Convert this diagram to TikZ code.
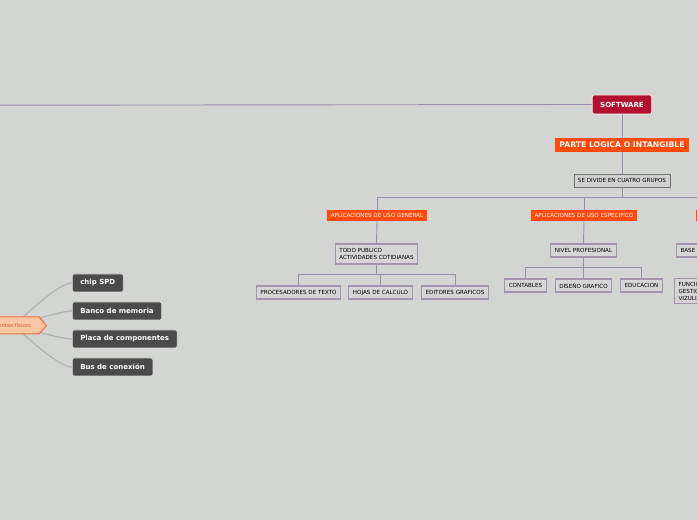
\documentclass[tikz,border=0pt]{standalone}
\usepackage{fontspec}
\setmainfont{DejaVu Sans}
\usetikzlibrary{shapes.symbols}
\definecolor{bgcol}{HTML}{D3D5D2}
\definecolor{crimson}{HTML}{B3102F}
\definecolor{flame}{HTML}{FF4A0A}
\definecolor{linecol}{HTML}{9C8CAC}
\definecolor{boxline}{HTML}{A494AE}
\definecolor{darkfill}{HTML}{4A4A4A}
\definecolor{peach}{HTML}{F9C8A2}
\definecolor{peachline}{HTML}{F26B3A}
\begin{document}
\begin{tikzpicture}[x=1pt, y=1pt,
    rootbox/.style={rectangle, rounded corners=2pt, fill=crimson, draw=white, line width=0.6pt, text=white, font=\bfseries\fontsize{7}{8}\selectfont, minimum height=19pt, inner xsep=8pt},
    mainbox/.style={rectangle, fill=flame, text=white, font=\bfseries\fontsize{7.7}{9}\selectfont, minimum height=14pt, inner xsep=4pt},
    groupbox/.style={rectangle, fill=flame, text=white, font=\fontsize{5.6}{6.5}\selectfont, minimum height=11pt, inner xsep=3.5pt},
    splitbox/.style={rectangle, fill=black!18, draw=black!55, line width=0.9pt, font=\fontsize{5.6}{6.5}\selectfont, minimum height=13pt, inner xsep=4pt},
    leafbox/.style={rectangle, fill=black!16, draw=boxline, line width=1.1pt, font=\fontsize{5.6}{7}\selectfont, minimum height=13pt, inner xsep=4pt, align=left},
    darkbox/.style={rectangle, rounded corners=2pt, fill=darkfill, draw=white!85!black, line width=0.6pt, text=white, font=\bfseries\fontsize{7}{8}\selectfont, minimum height=18pt, inner xsep=8pt},
    conn/.style={draw=linecol, line width=0.9pt},
    branch/.style={draw=black!30, line width=1.2pt}]
    \useasboundingbox (0,0) rectangle (697,520);
    \fill[bgcol] (0,0) rectangle (697,520);

    % Root.
    \node[rootbox] (software) at (622,415.5) {SOFTWARE};
    \coordinate (left) at (-5,414.8);
    \draw[conn] (left) -- (software.west);

    \node[mainbox] (parte) at (622,375) {PARTE LOGICA O INTANGIBLE};
    \node[splitbox] (grupos) at (622,339.5) {SE DIVIDE EN CUATRO GRUPOS};
    \draw[conn] (software.south) -- (parte.north);
    \draw[conn] (parte.south) -- (grupos.north);

    % Groups.
    \node[groupbox] (general) at (377,304.5) {APLICACIONES DE USO GENERAL};
    \node[groupbox] (especifico) at (584,304.5) {APLICACIONES DE USO ESPECIFICO};
    \node[groupbox, anchor=west, minimum width=100pt] (tercero) at (696,304.5) {};
    \foreach \dest in {general, especifico, tercero}
        \draw[conn] (grupos.south) -- ++(0,-10) -| (\dest.north);

    % General use.
    \node[leafbox, minimum height=20pt] (publico) at (376.5,266) {TODO PUBLICO\\ACTIVIDADES COTIDIANAS};
    \draw[conn] (general.south) -- (publico.north);
    \foreach \name/\txt/\x in {proc/PROCESADORES DE TEXTO/298.5, hojas/HOJAS DE CALCULO/380.5, editores/EDITORES GRAFICOS/455}
    {
        \node[leafbox] (\name) at (\x,227.5) {\txt};
        \draw[conn] (publico.south) -- ++(0,-10) -| (\name.north);
    }

    % Specific use.
    \node[leafbox] (nivel) at (583.5,269.5) {NIVEL PROFESIONAL};
    \draw[conn] (especifico.south) -- (nivel.north);
    \foreach \name/\txt/\x in {contables/CONTABLES/525.5, diseno/DISEÑO GRAFICO/583.5, educacion/EDUCACION/641.5}
    {
        \node[leafbox] (\name) at (\x,234.5) {\txt};
        \draw[conn] (nivel.south) -- ++(0,-10) -| (\name.north);
    }

    % Third group.
    \node[leafbox, anchor=west] (base) at (676,269.5) {BASE DE DATOS};
    \node[leafbox, anchor=west] (funciones) at (674,229) {FUNCIONES\\GESTION\\VIZULIZACION};
    \draw[conn] (tercero.south) -- (base.north);
    \draw[conn] (base.south) -- ++(0,-6) -| (funciones.north);

    % Physical parts.
    \coordinate (hub) at (14,194.5);
    \foreach \name/\txt/\y/\ang in {chip/chip SPD/237/42, banco/Banco de memoria/209/14, placa/Placa de componentes/181/-14, bus/Bus de conexión/153/-42}
    {
        \node[darkbox, anchor=west] (\name) at (72,\y) {\txt};
        \draw[branch] (hub) to[out=\ang, in=180, looseness=0.5] (\name.west);
    }
    \node[signal, signal to=east and west, signal pointer angle=100, fill=peach, draw=peachline, line width=1pt, text=peachline!90!black, font=\fontsize{5.3}{6}\selectfont, minimum height=17pt, inner xsep=8pt, anchor=east] (fisicos) at (47,194.5) {Componentes físicos};

\end{tikzpicture}
\end{document}
